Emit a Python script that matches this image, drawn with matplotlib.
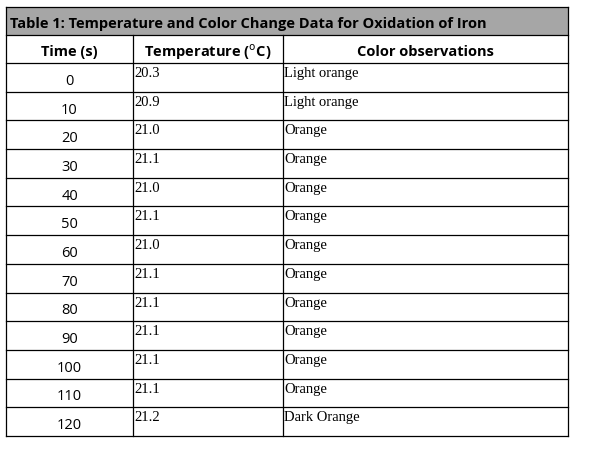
import matplotlib
matplotlib.use("Agg")
import matplotlib.pyplot as plt
from matplotlib.patches import Rectangle

title = "Table 1: Temperature and Color Change Data for Oxidation of Iron"
headers = ["Time (s)", "Temperature ($^{\\rm o}$C)", "Color observations"]
times = [0, 10, 20, 30, 40, 50, 60, 70, 80, 90, 100, 110, 120]
temps = ["20.3", "20.9", "21.0", "21.1", "21.0", "21.1", "21.0", "21.1", "21.1", "21.1", "21.1", "21.1", "21.2"]
colors_obs = ["Light orange", "Light orange"] + ["Orange"] * 10 + ["Dark Orange"]

fig = plt.figure(figsize=(6.01, 4.52), dpi=100)
ax = fig.add_axes([0, 0, 1, 1])
ax.set_xlim(0, 601); ax.set_ylim(452, 0); ax.axis("off")

xs = [6, 133, 283, 568]
top, ttl_b, hdr_b, bot = 8, 36, 64, 437
n = len(times)
rh = (bot - hdr_b) / n

ax.add_patch(Rectangle((xs[0], top), xs[-1] - xs[0], ttl_b - top, facecolor="#a6a6a6", edgecolor="none"))
lw = 0.9
for y in [top, ttl_b, hdr_b] + [hdr_b + rh * i for i in range(1, n + 1)]:
    ax.plot([xs[0], xs[-1]], [y, y], color="black", lw=lw)
for x in [xs[0], xs[-1]]:
    ax.plot([x, x], [top, bot], color="black", lw=lw)
for x in xs[1:-1]:
    ax.plot([x, x], [ttl_b, bot], color="black", lw=lw)

ax.text(xs[0] + 4, (top + ttl_b) / 2 + 2, title, fontsize=10.5, fontweight="bold", family="Open Sans", va="center", ha="left")
for i, h in enumerate(headers):
    ax.text((xs[i] + xs[i + 1]) / 2, (ttl_b + hdr_b) / 2 + 2, h, fontsize=10.5, fontweight="bold", family="Open Sans", va="center", ha="center")

for i in range(n):
    y0 = hdr_b + rh * i
    ax.text((xs[0] + xs[1]) / 2, y0 + rh / 2 + 3, str(times[i]), fontsize=10.5, family="Open Sans", va="center", ha="center")
    ax.text(xs[1] + 1, y0 + 3, temps[i], fontsize=10.5, family="Liberation Serif", va="top", ha="left")
    ax.text(xs[2] + 1, y0 + 3, colors_obs[i], fontsize=10.5, family="Liberation Serif", va="top", ha="left")

fig.savefig("out.png", dpi=100, facecolor="white")
